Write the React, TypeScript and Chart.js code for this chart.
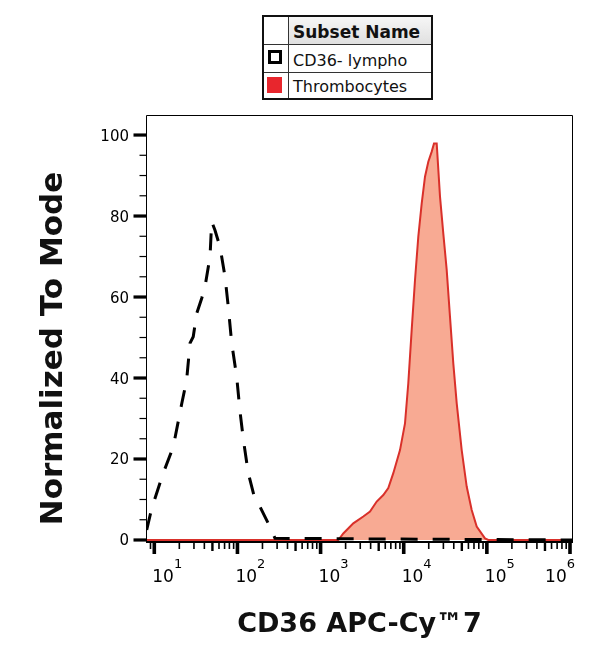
import React, { useEffect, useRef } from "react";
import { Chart, registerables } from "chart.js";

Chart.register(...registerables);

// CD36- lympho (dashed black histogram)
const lymphoX = [8.1, 9.3, 12.8, 16.9, 21.4, 24.5, 26.9, 29.4, 32.4, 37.2, 40.7, 46.8, 49, 53.7, 61.7, 70.9, 77.6, 85.3, 98, 107, 118, 135, 163, 187, 235, 283, 1.06e6];
const lymphoY = [2.5, 7.8, 16.5, 23, 33.7, 39.5, 48.6, 50.2, 56, 59.7, 62.5, 70, 78.6, 76.5, 72.4, 65, 57.6, 48.6, 40.3, 32, 24.7, 16.5, 9.9, 8.2, 4.1, 0.4, 0];

// Thrombocytes (filled red histogram)
const thromboX = [8.1, 1634, 1876, 2475, 3265, 3930, 4732, 5680, 6524, 7494, 9022, 10360, 11350, 12470, 13670, 14980, 16460, 18030, 19760, 21710, 23130, 24930, 27320, 29920, 32880, 36030, 39480, 43370, 49820, 57210, 65710, 75480, 94970, 104000, 1.06e6];
const thromboY = [0, 0, 1.6, 4.1, 5.8, 7, 9.5, 11.1, 12.8, 16.5, 22.2, 28.8, 38.7, 51.9, 64.2, 74.9, 83.1, 89.7, 93.4, 95.9, 97.9, 97.9, 84.8, 75.7, 66.7, 55.1, 43.6, 33.8, 22.2, 13.2, 7.4, 3.3, 0.4, 0, 0];

const seriesNames = ["CD36- lympho", "Thrombocytes"];
const yTickValues = [0, 20, 40, 60, 80, 100];
const yMinorValues = [5, 10, 15, 25, 30, 35, 45, 50, 55, 65, 70, 75, 85, 90, 95];
const xDecadeExponents = [1, 2, 3, 4, 5, 6];
const xMinorMultipliers = [2, 3, 4, 5, 6, 7, 8, 9];
const xTitle = "CD36 APC-Cy™7";
const yTitle = "Normalized To Mode";
const legendTitle = "Subset Name";

const X_MIN = 8.17;
const X_MAX = 1.057e6;
const Y_MIN = -0.25;
const Y_MAX = 104.7;

const FONT = "'DejaVu Sans'";

const toPoints = (xs: number[], ys: number[]) => xs.map((x, i) => ({ x, y: ys[i] }));

const framePlugin = {
  id: "flowFrame",
  beforeDatasetsDraw(chart: any) {
    const { ctx, chartArea: a } = chart;
    ctx.save();
    ctx.strokeStyle = "#000";
    ctx.lineWidth = 1;
    ctx.beginPath();
    ctx.moveTo(a.left - 0.5, a.bottom);
    ctx.lineTo(a.left - 0.5, a.top - 0.5);
    ctx.lineTo(a.right + 0.5, a.top - 0.5);
    ctx.lineTo(a.right + 0.5, a.bottom);
    ctx.stroke();
    ctx.lineWidth = 2;
    ctx.beginPath();
    ctx.moveTo(a.left - 1, a.bottom + 1);
    ctx.lineTo(a.right + 1, a.bottom + 1);
    ctx.stroke();
    ctx.restore();
  },
  afterDraw(chart: any) {
    const { ctx, chartArea: a, scales } = chart;
    const xs = scales.x;
    const ys = scales.y;
    ctx.save();
    ctx.fillStyle = "#000";
    ctx.strokeStyle = "#000";

    // Y ticks
    const yAxisX = a.left - 0.5;
    yTickValues.forEach((v) => {
      const y = ys.getPixelForValue(v);
      ctx.fillRect(yAxisX - 13, y - 1.6, 13, 3.2);
    });
    yMinorValues.forEach((v) => {
      const y = ys.getPixelForValue(v);
      ctx.fillRect(yAxisX - 7, y - 0.6, 7, 1.2);
    });
    ctx.font = `15px ${FONT}`;
    ctx.textAlign = "right";
    ctx.textBaseline = "alphabetic";
    yTickValues.forEach((v) => {
      const y = ys.getPixelForValue(v);
      ctx.fillText(String(v), 129, y + 5.5);
    });

    // X ticks
    const xAxisY = a.bottom + 1;
    for (let e = 0; e <= 6; e++) {
      xMinorMultipliers.forEach((m) => {
        const v = m * Math.pow(10, e);
        if (v < X_MIN || v > X_MAX) return;
        const x = xs.getPixelForValue(v);
        if (m === 5) ctx.fillRect(x - 1.2, xAxisY, 2.4, 9);
        else ctx.fillRect(x - 0.8, xAxisY, 1.6, 7);
      });
    }
    xDecadeExponents.forEach((e) => {
      const x = xs.getPixelForValue(Math.pow(10, e));
      ctx.fillRect(x - 1.8, xAxisY, 3.6, 12);
    });
    ctx.textAlign = "left";
    xDecadeExponents.forEach((e) => {
      const x = xs.getPixelForValue(Math.pow(10, e));
      ctx.font = `17px ${FONT}`;
      const wBase = ctx.measureText("10").width;
      ctx.font = `13px ${FONT}`;
      const wExp = ctx.measureText(String(e)).width;
      const total = wBase + wExp;
      const start = Math.min(x - 2, 575 - total);
      ctx.font = `17px ${FONT}`;
      ctx.fillText("10", start, 582);
      ctx.font = `13px ${FONT}`;
      ctx.fillText(String(e), start + wBase, 568);
    });

    // Axis titles
    ctx.font = `bold 27px ${FONT}`;
    ctx.textAlign = "center";
    ctx.fillStyle = "#111";
    ctx.fillText(xTitle, (a.left + a.right) / 2, 632);

    ctx.save();
    ctx.translate(62, 348.5);
    ctx.rotate(-Math.PI / 2);
    ctx.font = `bold 31px ${FONT}`;
    ctx.textAlign = "center";
    ctx.fillText(yTitle, 0, 0);
    ctx.restore();

    ctx.restore();
  },
};

export default function App() {
  const ref = useRef<HTMLCanvasElement | null>(null);

  useEffect(() => {
    if (!ref.current) return;
    const chart = new Chart(ref.current, {
      type: "line",
      data: {
        datasets: [
          {
            label: seriesNames[0],
            data: toPoints(lymphoX, lymphoY),
            borderColor: "#000",
            borderWidth: 3,
            borderDash: [17, 15],
            pointRadius: 0,
            fill: false,
            tension: 0,
            order: 0,
          },
          {
            label: seriesNames[1],
            data: toPoints(thromboX, thromboY),
            borderColor: "#D9302A",
            backgroundColor: "#F8AA93",
            borderWidth: 2,
            pointRadius: 0,
            fill: "origin",
            tension: 0,
            order: 1,
          },
        ],
      },
      options: {
        responsive: false,
        animation: false,
        layout: { padding: { left: 147, top: 116, right: 25, bottom: 116 } },
        plugins: { legend: { display: false }, tooltip: { enabled: false } },
        scales: {
          x: { type: "logarithmic", min: X_MIN, max: X_MAX, display: false },
          y: { type: "linear", min: Y_MIN, max: Y_MAX, display: false },
        },
      },
      plugins: [framePlugin],
    });
    return () => chart.destroy();
  }, []);

  const rowText: React.CSSProperties = {
    position: "absolute",
    left: 29,
    whiteSpace: "nowrap",
    color: "#111",
    fontFamily: "'DejaVu Sans'",
  };

  return (
    <div style={{ position: "absolute", left: 0, top: 0, width: 597, height: 657, background: "#fff" }}>
      <canvas ref={ref} width={597} height={657} style={{ position: "absolute", left: 0, top: 0, width: 597, height: 657 }} />
      <div
        style={{
          position: "absolute",
          left: 262,
          top: 15,
          width: 171,
          height: 85,
          boxSizing: "border-box",
          border: "2px solid #111",
          background: "#fff",
        }}
      >
        <div style={{ position: "absolute", left: 25, top: 0, width: 142, height: 27, background: "linear-gradient(#f6f6f6, #e0e0e0)" }} />
        <div style={{ position: "absolute", left: 24, top: 0, width: 1, height: 81, background: "#333" }} />
        <div style={{ position: "absolute", left: 0, top: 27, width: 167, height: 1, background: "#333" }} />
        <div style={{ position: "absolute", left: 0, top: 55, width: 167, height: 1, background: "#333" }} />
        <div style={{ ...rowText, top: 2, height: 27, lineHeight: "27px", fontSize: 17, fontWeight: 700 }}>{legendTitle}</div>
        <div style={{ position: "absolute", left: 4, top: 33, width: 14, height: 14, boxSizing: "border-box", border: "3px solid #000" }} />
        <div style={{ ...rowText, top: 30, height: 27, lineHeight: "27px", fontSize: 16 }}>{seriesNames[0]}</div>
        <div style={{ position: "absolute", left: 3, top: 60, width: 15, height: 16, background: "#E8262D" }} />
        <div style={{ ...rowText, top: 57, height: 25, lineHeight: "25px", fontSize: 16 }}>{seriesNames[1]}</div>
      </div>
    </div>
  );
}
